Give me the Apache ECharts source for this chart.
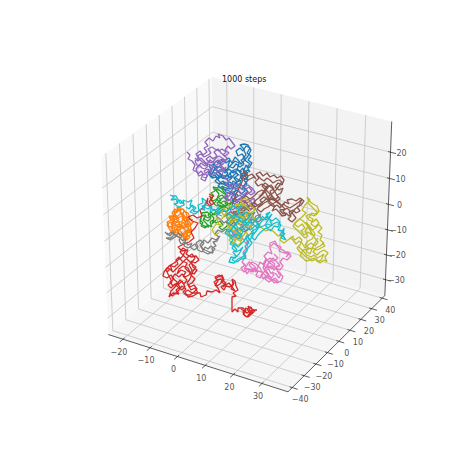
<!DOCTYPE html>
<html>
<head>
<meta charset="utf-8">
<style>html,body{margin:0;background:#fff}#c{width:474px;height:474px}</style>
<script src="https://cdn.jsdelivr.net/npm/echarts@6/dist/echarts.min.js"></script>
</head>
<body>
<div id="c"></div>
<script>
const xTicks = [-20, -10, 0, 10, 20, 30]
const yTicks = [-40, -30, -20, -10, 0, 10, 20, 30, 40]
const zTicks = [-30, -20, -10, 0, 10, 20]
const xLim = [-25.5, 39]
const yLim = [-43.5, 42.5]
const zLim = [-36.5, 31.5]

// walks, in picture pixels [x, y]
const walkBlue = [[235,205],[232,200],[236,197],[233,192],[238,190],[241,194],[245,191],[243,186],[247,184],[244,180],[248,177],[245,173],[240,175],[242,180],[237,182],[234,178],[238,175],[235,171],[230,173],[232,178],[228,181],[225,177],[228,173],[224,170],[219,172],[222,176],[218,179],[215,175],[211,177],[208,173],[212,170],[209,166],[214,164],[217,168],[221,165],[218,161],[223,159],[226,163],[230,160],[228,166],[233,168],[236,164],[240,167],[244,164],[241,160],[245,158],[242,154],[238,156],[236,151],[240,148],[243,151],[246,146],[250,148],[247,153],[251,156],[248,160],[252,163],[249,168],[246,165],[244,170],[248,173],[243,176],[238,170],[233,173],[229,169],[225,173],[221,169],[216,173],[219,177],[215,181],[219,184],[223,181],[226,185],[230,182],[234,186],[230,189],[226,188],[222,186],[226,192],[230,194],[233,188],[238,186],[241,182],[236,178],[231,176],[227,179],[222,178],[218,175],[213,172],[217,166],[222,168],[226,170],[231,165],[235,161],[239,163],[237,170],[242,172]]
const walkBlue2 = [[239,175],[236,173],[233,176],[230,178],[227,175],[224,178],[221,176],[218,171],[215,168],[212,174],[209,171],[212,178],[216,177],[219,181],[222,184],[225,182],[228,184],[231,186],[233,181],[236,183],[239,180],[241,177],[244,175],[247,170],[250,172],[247,167],[250,164],[246,161],[243,158],[246,155],[243,148],[240,145],[244,144],[248,145],[251,150],[248,156],[244,161],[241,164],[238,160],[235,157],[232,163],[229,158],[226,160],[222,162],[219,164],[216,161],[213,166],[216,170],[220,174],[224,176],[228,176],[232,171],[236,169],[240,171],[243,168],[245,176],[248,180],[245,184],[242,189],[239,187],[236,189],[234,193],[238,195],[235,199],[239,200],[242,197],[245,195],[248,192],[245,188],[241,185],[237,184],[233,184],[229,187],[225,185],[221,183],[218,186],[222,189],[227,190],[231,192],[234,195],[231,197],[234,201],[238,203]]
const walkOrange = [[193,222],[190,226],[192,231],[188,229],[186,234],[190,237],[187,240],[183,238],[184,233],[180,235],[177,232],[181,229],[178,226],[174,228],[176,233],[172,231],[173,226],[169,227],[167,222],[171,220],[169,216],[173,217],[175,222],[179,220],[177,216],[172,213],[175,209],[178,212],[177,207],[181,208],[180,213],[184,215],[182,219],[186,221],[184,225],[188,224],[186,218],[190,217],[188,213],[184,211],[182,216],[178,218],[174,220],[171,224],[175,226],[179,224],[182,228],[186,227],[183,222],[180,226],[176,229],[179,233],[182,236],[185,231],[189,233],[191,228],[187,222],[189,219],[193,220]]
const walkOrange2 = [[190,222],[187,225],[185,228],[182,225],[179,228],[176,225],[173,222],[170,218],[173,215],[176,218],[179,215],[182,213],[185,217],[188,220],[191,224],[188,227],[191,234],[188,236],[185,238],[182,233],[179,237],[176,235],[173,233],[170,230],[167,225],[170,222],[174,224],[177,222],[181,222],[184,219],[187,216],[186,213],[183,209],[179,210],[176,213],[174,211],[177,220],[181,226],[184,229],[187,231],[184,235],[181,232],[178,229],[174,231],[171,228],[175,219],[172,219],[178,208],[180,211],[183,217],[186,224],[189,230],[186,236],[183,240],[188,238]]
const walkGreen = [[224,205],[220,207],[217,203],[221,200],[218,197],[222,195],[225,198],[226,194],[223,191],[222,187],[217,188],[213,187],[215,191],[211,193],[214,196],[210,198],[213,201],[217,199],[220,203],[224,201],[228,203],[225,207],[229,209],[226,212],[222,210],[218,213],[214,215],[211,212],[208,215],[211,218],[208,221],[204,219],[206,215],[202,216],[200,220],[203,223],[201,226],[205,228],[208,225],[212,227],[210,222],[213,220],[216,223],[220,221],[223,225],[219,227],[222,230],[226,227],[229,223],[232,226]]
const walkGreen2 = [[228,200],[224,197],[221,199],[219,202],[222,204],[226,206],[223,208],[220,205],[217,206],[214,204],[216,201],[219,194],[215,189],[219,190],[223,193],[228,196],[225,203],[229,206],[232,202],[222,207],[216,212],[208,218],[205,216],[203,220],[206,223],[209,227],[204,226],[200,223],[202,213],[207,212],[211,215],[214,218],[212,224],[216,220]]
const walkRed = [[209,194],[213,196],[211,200],[214,203],[210,206],[207,203],[208,198],[205,206],[200,210],[202,216],[197,218],[193,215],[188,217],[192,221],[198,223],[195,228],[191,232],[194,238],[189,242],[184,244],[178,247],[182,251],[188,250],[186,254],[191,257],[196,256],[199,260],[195,263],[191,261],[193,267],[197,270],[194,274],[189,272],[185,268],[187,263],[182,261],[179,257],[176,260],[178,264],[174,267],[170,265],[172,270],[167,268],[164,272],[163,276],[167,278],[171,275],[174,279],[170,282],[173,286],[177,283],[180,287],[176,290],[179,294],[173,293],[169,297],[171,291],[175,287],[180,280],[184,284],[187,280],[183,276],[186,272],[181,270],[177,274],[179,269],[183,266],[188,268],[191,275],[195,279],[192,283],[188,285],[191,290],[195,288],[198,293],[193,296],[188,297],[185,292],[188,290],[192,293],[200,293],[201,297],[206,295],[207,291],[212,292],[216,290],[220,293],[218,288],[215,285],[218,281],[215,277],[219,275],[223,278],[221,282],[225,284],[221,287],[224,290],[226,286],[230,287],[233,284],[232,279],[235,281],[236,286],[238,290],[233,293],[236,296],[232,297],[232,305],[232,312],[235,309],[238,312],[238,308],[243,308],[246,311],[243,314],[247,317],[250,313],[247,309],[251,307],[253,312],[249,316],[252,310],[257,310]]
const walkRed2 = [[167,272],[170,269],[173,272],[176,269],[179,266],[182,263],[185,260],[188,257],[192,254],[195,258],[192,262],[189,265],[192,270],[189,275],[185,277],[182,274],[179,277],[175,274],[172,278],[176,281],[179,284],[182,281],[185,287],[182,290],[178,287],[175,284],[171,288],[168,285],[172,282],[168,274],[166,270],[169,266],[174,263],[178,260],[182,257],[186,250],[183,248],[180,252],[184,256],[188,260],[192,264],[196,267],[193,271],[190,279],[187,283],[190,287],[194,285],[197,289],[194,292],[190,295],[186,295],[183,292],[186,289],[182,286],[179,290],[176,293],[172,296],[170,293]]
const walkRed3 = [[215,279],[218,277],[222,275],[224,280],[220,284],[217,286],[214,282],[217,280],[221,279],[226,283],[223,287],[229,283],[232,287],[235,291],[231,289],[234,283],[232,280]]
const walkRed4 = [[241,309],[244,311],[247,313],[250,311],[248,306],[252,309],[255,311],[251,314],[248,317],[245,316],[243,312],[246,308],[249,309],[253,314]]
const walkRed5 = [[209,196],[212,198],[209,202],[212,205]]
const walkPurple = [[187,152],[190,155],[188,159],[192,161],[195,165],[193,170],[197,172],[199,176],[203,174],[201,179],[205,181],[207,176],[204,171],[208,169],[211,172],[213,167],[209,164],[205,166],[201,163],[198,167],[195,161],[199,158],[196,154],[200,151],[203,155],[207,152],[204,148],[208,146],[205,142],[209,138],[213,141],[216,136],[220,138],[218,134],[223,136],[226,140],[229,138],[232,142],[235,146],[231,149],[228,146],[225,150],[229,153],[225,156],[221,153],[218,149],[214,152],[217,156],[213,159],[210,156],[206,159],[209,162],[214,163],[218,160],[222,163],[219,167],[215,170],[219,172],[223,170],[226,167],[222,174],[225,178],[229,181],[226,184],[229,186],[232,183],[236,186],[240,184],[244,187],[248,185],[252,188],[255,192],[251,195],[247,192],[243,195],[239,191],[235,194],[231,191],[227,194],[224,198],[228,201],[232,198],[236,201],[240,198],[244,202],[248,199],[252,203],[249,207],[245,205],[241,209],[237,206],[233,210],[229,207],[232,213],[236,216],[240,213]]
const walkPurple2 = [[195,158],[198,161],[201,158],[204,161],[207,164],[210,160],[213,162],[216,158],[219,156],[222,158],[225,160],[221,161],[218,164],[214,166],[211,169],[207,172],[204,175],[201,171],[198,174],[196,169],[199,165],[202,168],[205,169],[208,166],[204,163],[200,160],[197,156],[201,154],[204,157],[208,155],[211,153],[208,149],[212,147],[215,149],[219,151],[222,149],[226,152],[223,155],[227,158],[224,163],[221,166],[224,168],[220,170],[216,173],[212,175],[209,173],[206,178],[203,177]]
const walkPurple3 = [[228,188],[231,186],[234,189],[237,188],[240,187],[243,190],[246,189],[249,187],[252,191],[249,193],[246,195],[243,198],[240,195],[237,197],[234,196],[231,194],[228,197],[225,195],[228,199],[232,202],[235,204],[238,201],[241,203],[244,200],[247,203],[250,201],[254,198],[255,205],[251,209],[247,208],[243,211],[239,210]]
const walkBrown = [[226,222],[230,226],[234,222],[231,217],[236,214],[240,218],[244,214],[241,210],[245,207],[249,211],[253,208],[250,204],[255,203],[259,207],[263,204],[260,200],[264,197],[268,200],[272,196],[270,191],[274,189],[271,185],[266,187],[262,184],[258,186],[255,182],[259,178],[256,174],[260,172],[263,176],[267,173],[270,177],[274,175],[277,178],[281,176],[284,180],[282,185],[278,183],[275,187],[279,190],[283,188],[281,193],[277,195],[280,199],[276,202],[272,204],[268,207],[264,209],[261,212],[257,209],[260,205],[266,202],[270,199],[274,200],[278,203],[282,206],[285,202],[289,204],[287,200],[292,199],[296,201],[300,198],[304,201],[301,205],[297,207],[300,211],[296,213],[293,210],[289,212],[291,216],[288,219],[292,222],[296,218],[293,214],[287,208],[283,211],[286,215],[282,216],[279,212],[276,209],[272,211],[275,206],[270,202],[266,193],[262,190],[258,192],[254,196],[250,199],[246,196],[242,199],[239,204],[236,208],[232,205],[236,194],[240,186],[243,180],[241,174],[245,172],[248,176],[252,174],[256,179]]
const walkBrown2 = [[258,176],[261,179],[264,181],[267,178],[270,180],[273,183],[276,181],[279,180],[282,182],[279,186],[276,190],[273,193],[270,195],[267,198],[264,201],[261,203],[258,205],[255,207],[252,205],[256,200],[260,197],[263,194],[266,190],[269,186],[272,188],[275,192],[278,197],[275,200],[272,198],[268,202],[271,205],[274,207],[277,205],[280,208],[283,204],[286,206],[290,208],[293,206],[296,204],[299,202],[302,199],[299,206],[295,209],[292,213],[289,216],[286,213],[283,214],[280,210],[285,209],[262,186],[265,183],[268,185],[265,189],[262,194],[259,197]]
const walkBrown3 = [[228,224],[232,220],[236,217],[233,212],[238,211],[242,213],[246,209],[249,206],[245,202],[241,207]]
const walkBrown4 = [[243,170],[246,174],[243,178],[248,180],[252,178],[255,176]]
const walkPink = [[232,232],[236,230],[239,234],[235,237],[231,235],[238,240],[240,236],[244,240],[246,244],[248,240],[247,248],[243,252],[246,256],[242,262],[245,265],[241,268],[244,272],[248,269],[251,272],[254,268],[258,271],[256,276],[260,278],[263,274],[260,268],[256,264],[252,262],[249,265],[252,268],[256,272],[260,262],[264,265],[267,260],[264,256],[268,252],[272,254],[270,248],[270,243],[275,241],[277,245],[281,247],[279,251],[284,253],[288,252],[291,256],[287,260],[283,258],[280,262],[283,266],[280,270],[276,268],[279,274],[283,276],[281,281],[277,283],[273,279],[269,282],[265,279],[268,275],[264,270],[268,266],[272,269],[275,264],[271,261],[267,265],[270,272],[274,275],[271,278],[267,272],[263,268],[265,262],[270,258],[274,261],[278,258],[274,254]]
const walkPink2 = [[243,263],[246,267],[249,262],[253,265],[256,268],[253,272],[250,269],[247,274],[244,268],[262,272],[265,275],[268,278],[272,281],[275,278],[278,281],[274,283],[270,277],[266,276],[263,279],[261,275],[264,272],[268,269],[271,266],[274,270],[277,266],[280,266],[277,262],[273,258],[269,262],[266,268],[263,264],[266,259],[270,263],[274,266],[278,271],[281,274],[279,278],[276,274],[272,272]]
const walkPink3 = [[231,230],[234,233],[237,236],[233,238],[238,232],[241,237],[236,228],[232,235],[244,224],[247,228]]
const walkPink4 = [[271,246],[274,243],[279,248],[283,250],[287,254],[290,253],[286,257]]
const walkGray = [[165,232],[168,235],[171,232],[174,235],[171,238],[166,238],[170,240],[175,237],[178,233],[182,236],[179,240],[181,244],[185,242],[188,245],[192,243],[190,247],[194,250],[198,247],[196,243],[200,240],[204,243],[201,247],[205,250],[209,252],[213,253],[212,248],[216,246],[213,242],[217,241],[219,237],[215,234],[218,230],[222,232],[226,229],[229,232],[232,228],[236,225],[233,221],[238,219],[242,222],[246,219],[243,215],[247,212],[251,215],[255,212],[252,217],[248,222],[244,226],[240,229],[245,232],[249,229],[253,224],[250,220],[255,219],[258,222],[262,219],[259,215],[255,208],[250,206],[246,210],[242,206],[238,210],[234,214],[230,212],[226,216],[228,220],[224,223],[220,219],[216,216],[220,213],[224,211]]
const walkGray2 = [[167,233],[170,236],[173,232],[176,236],[180,238],[183,241],[186,239],[184,246],[188,248],[192,246],[195,244],[198,250],[202,252],[205,247],[208,249],[211,246],[215,249],[212,252],[208,254],[204,252],[200,245],[204,240],[208,243],[212,238],[216,240],[220,236]]
const walkGray3 = [[224,217],[228,213],[232,217],[236,212],[240,216],[244,212],[248,216],[252,212],[249,218],[245,221],[241,225],[237,222],[233,226],[238,230],[242,227],[246,231],[250,226],[254,222],[258,218],[261,214],[256,216],[253,221]]
const walkOlive = [[226,231],[229,235],[233,238],[236,241],[232,243],[236,246],[240,244],[242,239],[238,236],[241,231],[237,228],[233,231],[229,226],[232,222],[228,218],[232,215],[236,218],[240,215],[244,218],[241,222],[245,224],[248,228],[252,225],[249,221],[246,214],[242,211],[238,212],[235,207],[239,204],[243,206],[240,201],[245,198],[249,202],[252,207],[255,210],[251,213],[254,218],[258,225],[262,228],[266,231],[270,229],[274,232],[278,236],[282,234],[280,240],[284,243],[288,240],[292,237],[295,240],[299,237],[302,240],[300,245],[297,248],[300,252],[304,255],[308,258],[312,261],[316,259],[320,263],[324,260],[327,262],[325,257],[328,253],[324,250],[320,252],[317,255],[313,252],[316,248],[320,246],[324,243],[320,240],[322,235],[318,232],[322,228],[318,224],[315,227],[311,224],[313,219],[309,217],[312,213],[316,215],[319,211],[317,206],[313,204],[309,201],[307,197],[310,200],[305,205],[302,210],[306,213],[302,217],[298,220],[294,224],[298,227],[302,224],[305,228],[301,231],[304,235],[308,232],[312,235],[310,229],[306,222],[311,228],[315,234],[312,239],[308,241],[305,245],[309,248],[306,251],[310,254],[314,244],[318,238]]
const walkOlive2 = [[308,203],[311,206],[314,209],[317,212],[314,216],[310,214],[306,216],[309,220],[313,222],[316,219],[319,223],[316,228],[312,230],[308,227],[305,231],[308,236],[305,238],[302,235],[299,232],[296,229],[293,226],[296,222],[300,219],[303,221],[307,225],[311,232],[314,237],[318,242],[315,246],[311,243],[308,245],[305,248],[302,243],[299,241],[296,244],[293,240],[290,238],[294,236]]
const walkOlive3 = [[298,246],[301,249],[304,252],[307,255],[311,257],[314,255],[317,258],[321,256],[324,254],[321,260],[318,262],[314,258],[310,260],[306,261],[303,258],[300,256],[303,250],[313,248],[317,250],[321,248],[325,246],[322,243]]
const walkOlive4 = [[228,205],[232,208],[236,204],[240,207],[243,203],[246,207],[250,210],[247,216],[243,219],[239,215],[235,219],[231,222],[227,225],[230,229],[234,226],[238,224],[242,226],[239,231],[235,234],[232,237],[229,240],[233,244],[236,238],[240,241],[243,236],[246,232],[249,236],[253,230],[250,226],[225,216],[221,212],[224,208],[227,212],[221,220],[216,218],[219,224],[223,226],[216,224],[212,230],[215,235],[219,233]]
const walkCyan = [[170,195],[174,197],[171,200],[176,199],[178,203],[174,204],[179,207],[184,205],[183,200],[188,202],[192,200],[190,205],[194,208],[190,212],[195,214],[199,211],[198,205],[203,203],[202,198],[206,201],[204,207],[208,209],[212,206],[210,212],[214,210],[218,213],[222,209],[226,212],[230,209],[233,205],[237,209],[241,205],[238,212],[242,215],[246,212],[250,215],[247,220],[243,223],[239,220],[235,223],[238,228],[242,230],[246,227],[250,230],[254,227],[258,224],[255,220],[259,217],[263,220],[267,217],[272,221],[276,218],[280,222],[278,227],[274,226],[271,231],[266,228],[262,231],[258,235],[255,240],[251,237],[254,232],[249,235],[246,239],[249,243],[245,246],[247,251],[243,254],[246,258],[241,259],[237,262],[232,260],[236,256],[233,252],[237,250],[234,246],[230,244],[233,240],[229,236],[225,233],[228,229],[232,232],[235,236],[239,239],[242,235],[238,232],[235,228],[231,225],[227,222],[230,218],[234,215],[238,217],[242,219],[246,223],[251,222],[254,225],[258,228],[263,226],[268,224],[272,226],[270,220],[266,214],[270,212],[265,218],[261,222],[256,229],[251,232]]
const walkCyan2 = [[226,216],[230,214],[233,218],[237,215],[240,220],[236,224],[232,229],[229,233],[232,237],[236,234],[240,236],[243,232],[240,228],[244,225],[248,225],[252,219],[256,222],[260,225],[257,230],[253,235],[250,240],[247,235],[244,241],[241,244],[238,247],[235,243],[232,248],[236,252],[240,250],[243,247],[239,254],[235,258],[231,257],[229,262],[234,263],[238,259],[244,256],[248,248],[252,243],[248,238]]
const walkCyan3 = [[262,216],[266,220],[269,217],[272,214],[265,225],[268,228],[273,224],[277,222],[281,225],[278,230],[282,231],[284,237],[280,235],[284,228],[283,236],[286,240],[281,238],[285,233]]
const walkCyan4 = [[186,207],[189,209],[192,205],[196,208],[193,211],[197,212],[201,209],[205,210],[202,206],[206,205],[209,206],[212,209],[216,210],[219,207],[217,214],[222,216]]
const walkCyan5 = [[172,196],[176,196],[180,203],[183,203],[180,200],[176,202]]

const walkColors = ['#1f77b4', '#ff7f0e', '#2ca02c', '#d62728', '#9467bd', '#8c564b', '#e377c2', '#7f7f7f', '#bcbd22', '#17becf']
const walks = [
  [walkBlue, walkBlue2],
  [walkOrange, walkOrange2],
  [walkGreen, walkGreen2],
  [walkRed, walkRed2, walkRed3, walkRed4, walkRed5],
  [walkPurple, walkPurple2, walkPurple3],
  [walkBrown, walkBrown2, walkBrown3, walkBrown4],
  [walkPink, walkPink2, walkPink3, walkPink4],
  [walkGray, walkGray2, walkGray3],
  [walkOlive, walkOlive2, walkOlive3, walkOlive4],
  [walkCyan, walkCyan2, walkCyan3, walkCyan4, walkCyan5]
]

// matplotlib mplot3d view, elev 30, azim -60, dist 10
function project(x, y, z) {
  const a = (x - xLim[0]) / (xLim[1] - xLim[0]) - 0.5
  const b = (y - yLim[0]) / (yLim[1] - yLim[0]) - 0.5
  const c = (z - zLim[0]) / (zLim[1] - zLim[0]) - 0.5
  const xv = 0.866 * a + 0.5 * b
  const yv = -0.25 * a + 0.433 * b + 0.866 * c
  const w = 10 - (0.433 * a - 0.75 * b + 0.5 * c)
  return [248.7 + 2075 * xv / w, 229 - 2030 * yv / w]
}

let panes = [
  {color: '#f9f9f9', pts: [[xLim[0], yLim[0], zLim[0]], [xLim[0], yLim[1], zLim[0]], [xLim[0], yLim[1], zLim[1]], [xLim[0], yLim[0], zLim[1]]]},
  {color: '#f3f3f3', pts: [[xLim[0], yLim[1], zLim[0]], [xLim[1], yLim[1], zLim[0]], [xLim[1], yLim[1], zLim[1]], [xLim[0], yLim[1], zLim[1]]]},
  {color: '#f6f6f6', pts: [[xLim[0], yLim[0], zLim[0]], [xLim[1], yLim[0], zLim[0]], [xLim[1], yLim[1], zLim[0]], [xLim[0], yLim[1], zLim[0]]]}
]
let gridLines = []
xTicks.forEach(t => gridLines.push([[t, yLim[0], zLim[0]], [t, yLim[1], zLim[0]], [t, yLim[1], zLim[1]]]))
yTicks.forEach(t => gridLines.push([[xLim[1], t, zLim[0]], [xLim[0], t, zLim[0]], [xLim[0], t, zLim[1]]]))
zTicks.forEach(t => gridLines.push([[xLim[0], yLim[0], t], [xLim[0], yLim[1], t], [xLim[1], yLim[1], t]]))

let axisLines = [
  [[xLim[0], yLim[0], zLim[0]], [xLim[1], yLim[0], zLim[0]]],
  [[xLim[1], yLim[0], zLim[0]], [xLim[1], yLim[1], zLim[0]]],
  [[xLim[1], yLim[1], zLim[0]], [xLim[1], yLim[1], zLim[1]]]
]
xTicks.forEach(t => axisLines.push([[t, yLim[0] + 1.2, zLim[0]], [t, yLim[0] - 2.5, zLim[0]]]))
yTicks.forEach(t => axisLines.push([[xLim[1] - 0.9, t, zLim[0]], [xLim[1] + 1.9, t, zLim[0]]]))
zTicks.forEach(t => axisLines.push([[xLim[1] - 0.9, yLim[1], t], [xLim[1] + 1.9, yLim[1], t]]))

let tickLabels = []
xTicks.forEach(t => { let p = project(t, yLim[0], zLim[0]); tickLabels.push([p[0] - 4, p[1] + 13, t]) })
yTicks.forEach(t => { let p = project(xLim[1], t, zLim[0]); tickLabels.push([p[0] + 8, p[1] + 12, t]) })
zTicks.forEach(t => { let p = project(xLim[1], yLim[1], t); tickLabels.push([p[0] + 11, p[1] + 1, t]) })

function pathSeries(list, style, z) {
  return {
    type: 'custom',
    coordinateSystem: 'cartesian2d',
    silent: true,
    z: z,
    data: list.map((l, i) => [i]),
    renderItem: function(params, api) {
      let pts = list[params.dataIndex].map(p => {
        let q = project(p[0], p[1], p[2])
        return api.coord(q)
      })
      return {type: 'polyline', shape: {points: pts}, style: style}
    }
  }
}

let series = [{
  type: 'custom',
  coordinateSystem: 'cartesian2d',
  silent: true,
  z: 1,
  data: panes.map((p, i) => [i]),
  renderItem: function(params, api) {
    let pane = panes[params.dataIndex]
    return {
      type: 'polygon',
      shape: {points: pane.pts.map(p => api.coord(project(p[0], p[1], p[2])))},
      style: {fill: pane.color}
    }
  }
},
pathSeries(gridLines, {fill: 'none', stroke: '#c4c4c4', lineWidth: 0.8}, 2),
pathSeries(axisLines, {fill: 'none', stroke: '#333', lineWidth: 0.8}, 3),
{
  type: 'scatter',
  symbolSize: 0,
  silent: true,
  z: 4,
  data: tickLabels,
  label: {
    show: true,
    position: 'inside',
    color: '#222',
    fontFamily: 'DejaVu Sans',
    fontSize: 8,
    formatter: function(d) {
      return d.data[2] < 0 ? '\u2212' + Math.abs(d.data[2]) : '' + d.data[2]
    }
  }
}]

walks.forEach((parts, i) => {
  parts.forEach(part => {
    series.push({
      type: 'line',
      data: part,
      z: 5 + i,
      silent: true,
      showSymbol: false,
      lineStyle: {color: walkColors[i], width: 1.3}
    })
  })
})

let option = {
  animation: false,
  backgroundColor: '#fff',
  title: {
    text: '1000 steps',
    left: 217,
    top: 70,
    textStyle: {fontFamily: 'DejaVu Sans', fontSize: 8, fontWeight: 'normal', color: '#111'}
  },
  grid: {left: 0, right: 0, top: 0, bottom: 0},
  xAxis: {type: 'value', min: 0, max: 474, show: false},
  yAxis: {type: 'value', min: 0, max: 474, inverse: true, show: false},
  series: series
}
let myChart = echarts.init(document.getElementById('c'), null, {renderer: 'svg'})
myChart.setOption(option)
</script>
</body>
</html>
